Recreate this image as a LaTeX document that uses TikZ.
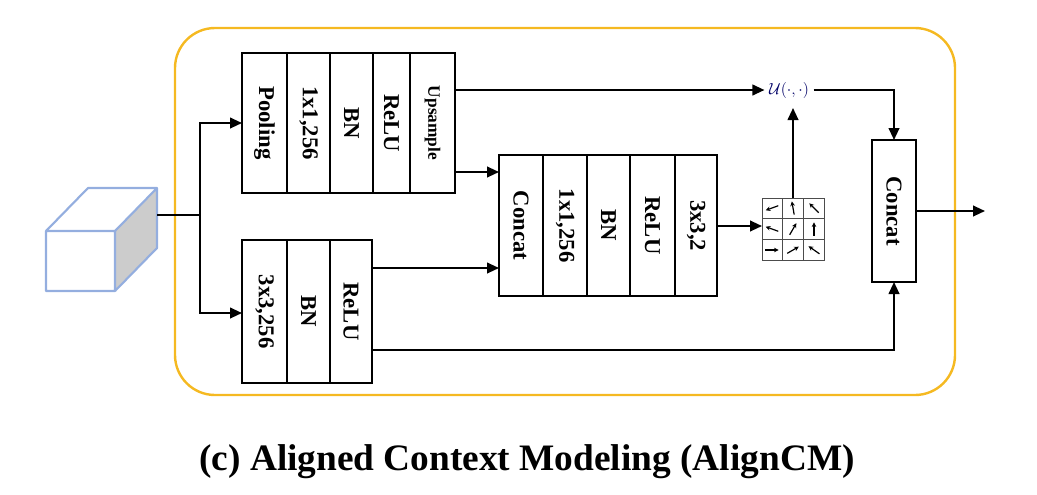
\documentclass[tikz,border=0pt]{standalone}
\usepackage{fontspec}
\setmainfont{Liberation Serif}
\usetikzlibrary{arrows.meta,calc}
\definecolor{orng}{HTML}{F5B921}
\definecolor{cubeb}{HTML}{94AEDF}
\begin{document}
\begin{tikzpicture}[x=0.75pt,y=-0.75pt,
  lbl/.style={rotate=-90},
  con/.style={line width=1.5pt,-{Triangle[length=9pt,width=8pt]}},
  ln/.style={line width=1.5pt}]
\useasboundingbox (0,0) rectangle (1037,494);
% container
\draw[orng,line width=1.8pt,rounded corners=30pt] (175,28) rectangle (955,395);
% cube
\fill[gray!40] (115,231) -- (157,188) -- (157,248) -- (115,291) -- cycle;
\draw[cubeb,line width=1.6pt,line join=round] (46,231) rectangle (115,291)
  (46,231) -- (88,188) -- (157,188) -- (115,231)
  (157,188) -- (157,248) -- (115,291);
\coordinate (cubeR) at (157,215);
\newcommand{\cellbox}[7]{%
  \draw[line width=2.2pt] (#2,#3) rectangle (#4,#5);
  \node[lbl,font=\bfseries\fontsize{#7}{#7}\selectfont] (#1) at ({(#2+#4)/2},{(#3+#5)/2}) {#6};}
% top block
\cellbox{pool}{242}{53}{287}{193}{Pooling}{17}
\cellbox{t1}{287}{53}{330}{193}{1x1,256}{17}
\cellbox{tbn}{330}{53}{373}{193}{BN}{17}
\cellbox{trelu}{373}{53}{410}{193}{ReLU}{17}
\cellbox{ups}{410}{53}{455}{193}{Upsample}{13}
\coordinate (topR) at (455,90); \coordinate (upsR) at (455,172);
% bottom block
\cellbox{b1}{242}{240}{287}{383}{3x3,256}{17}
\cellbox{bbn}{287}{240}{330}{383}{BN}{17}
\cellbox{brelu}{330}{240}{372}{383}{ReLU}{17}
\coordinate (botR1) at (372,268); \coordinate (botR2) at (372,350);
% middle block
\cellbox{mcat}{499}{155}{543}{296}{Concat}{17}
\cellbox{m1}{543}{155}{587}{296}{1x1,256}{17}
\cellbox{mbn}{587}{155}{630}{296}{BN}{17}
\cellbox{mrelu}{630}{155}{675}{296}{ReLU}{17}
\cellbox{m3}{675}{155}{717}{296}{3x3,2}{17}
\coordinate (midR) at (717,226);
% right concat
\cellbox{rcat}{872}{140}{916}{282}{Concat}{17}
\coordinate (rcatT) at (894,140); \coordinate (rcatB) at (894,282);
\coordinate (rcatR) at (916,211); \coordinate (out) at (985,211);
% grid
\draw[line width=0.7pt,gray!60!black] (762,198) rectangle (824,260)
  (782.7,198) -- (782.7,260) (803.3,198) -- (803.3,260)
  (762,218.7) -- (824,218.7) (762,239.3) -- (824,239.3);
\node[inner sep=0pt,minimum width=46.5pt,minimum height=46.5pt] (grid) at (793,229) {};
\foreach \cx/\cy/\a in {772/208/200, 793/208/100, 814/208/135,
                        772/229/160, 793/229/60, 814/229/90,
                        772/250/0, 793/250/30, 814/250/145}{
  \draw[line width=0.9pt,-{Stealth[length=3.5pt,width=3.5pt]}] ($(\cx,\cy)+(\a+180:5pt)$) -- ($(\cx,\cy)+(\a:5pt)$);}
% U label
\node[text=blue!40!black,font=\large] (U) at (789,90) {$\mathcal{U}(\cdot,\cdot)$};
\coordinate (gridT) at (793,198); \coordinate (Ub) at (793,108);
\coordinate (gridL) at (762,226);
% connectors
\coordinate (br) at (200,215);
\coordinate (poolL) at (242,123); \coordinate (b1L) at (242,313);
\coordinate (mcatT) at (499,172); \coordinate (mcatB) at (499,268);
\draw[ln] (cubeR) -- (br);
\draw[con] (br) |- (poolL);
\draw[con] (br) |- (b1L);
\draw[con] (topR) -- (U.west);
\draw[con] (upsR) -- (mcatT);
\draw[con] (botR1) -- (mcatB);
\draw[con] (midR) -- (gridL);
\draw[con] (gridT) -- (Ub);
\draw[con] (U.east) -| (rcatT);
\draw[con] (botR2) -| (rcatB);
\draw[con] (rcatR) -- (out);
% title
\node[font=\bfseries\fontsize{28}{28}\selectfont] (title) at (527,462) {(c) Aligned Context Modeling (AlignCM)};
\end{tikzpicture}
\end{document}
